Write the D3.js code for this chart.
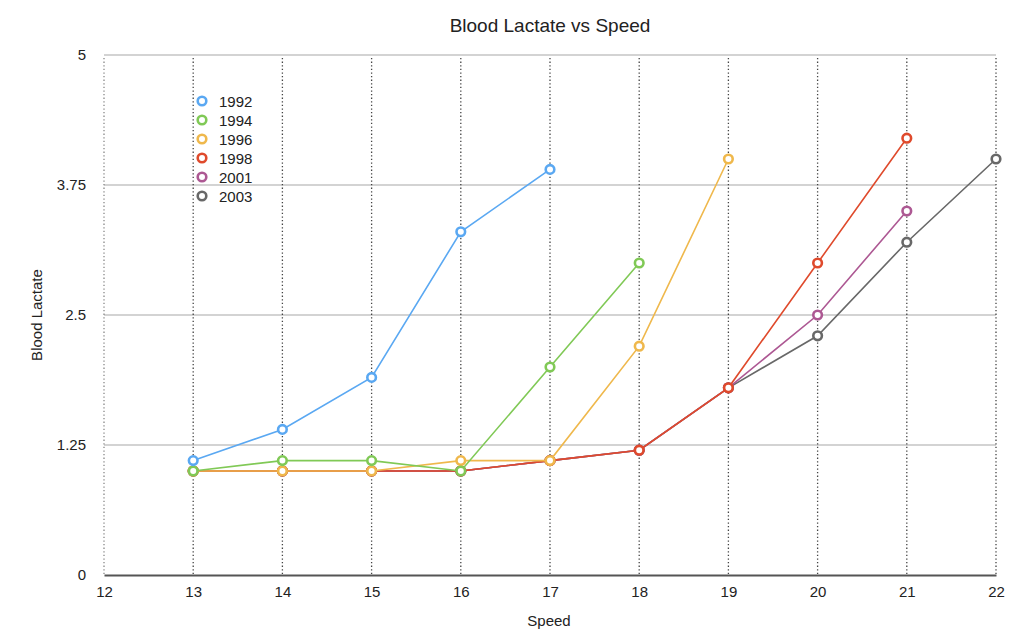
<!DOCTYPE html>
<html>
<head>
<meta charset="utf-8">
<script src="https://cdn.jsdelivr.net/npm/d3@7"></script>
<style>
  body { margin: 0; background: #fff; }
  svg text { font-family: "Liberation Sans", Arial, sans-serif; fill: #222; }
</style>
</head>
<body>
<svg id="chart" width="1024" height="638"></svg>
<script>
// speeds on the x axis
var speeds = [13, 14, 15, 16, 17, 18, 19, 20, 21, 22];
var xTicks = [12, 13, 14, 15, 16, 17, 18, 19, 20, 21, 22];
var yTicks = [0, 1.25, 2.5, 3.75, 5];

var years = ['1992', '1994', '1996', '1998', '2001', '2003'];
var colors = ['#5aa8f2', '#80c956', '#efb84c', '#df4a2c', '#ad5893', '#686868'];

// lactate per year, null where not measured
var v1992 = [1.1, 1.4, 1.9, 3.3, 3.9, null, null, null, null, null];
var v1994 = [1.0, 1.1, 1.1, 1.0, 2.0, 3.0, null, null, null, null];
var v1996 = [1.0, 1.0, 1.0, 1.1, 1.1, 2.2, 4.0, null, null, null];
var v1998 = [1.0, 1.0, 1.0, 1.0, 1.1, 1.2, 1.8, 3.0, 4.2, null];
var v2001 = [1.0, 1.0, 1.0, 1.0, 1.1, 1.2, 1.8, 2.5, 3.5, null];
var v2003 = [1.0, 1.0, 1.0, 1.0, 1.1, 1.2, 1.8, 2.3, 3.2, 4.0];

var values = [v1992, v1994, v1996, v1998, v2001, v2003];

var svg = d3.select('#chart');
var plotLeft = 104, plotRight = 996, plotTop = 55, plotBottom = 575;
var font = '"Liberation Sans", Arial, sans-serif';

var x = d3.scaleLinear().domain([12, 22]).range([plotLeft, plotRight]);
var y = d3.scaleLinear().domain([0, 5]).range([plotBottom, plotTop]);

// horizontal grid
svg.append('g').selectAll('line')
  .data(yTicks.filter(function(d){ return d > 0; }))
  .enter().append('line')
  .attr('x1', plotLeft).attr('x2', plotRight)
  .attr('y1', function(d){ return y(d); })
  .attr('y2', function(d){ return y(d); })
  .attr('stroke', '#c4c4c4').attr('stroke-width', 1.3);

// vertical dotted grid
svg.append('g').selectAll('line')
  .data(xTicks)
  .enter().append('line')
  .attr('x1', function(d){ return x(d); })
  .attr('x2', function(d){ return x(d); })
  .attr('y1', plotTop + 3).attr('y2', plotBottom)
  .attr('stroke', function(d){ return d === 12 ? '#888' : '#444'; })
  .attr('stroke-width', 1.3)
  .attr('stroke-dasharray', '1.3,2.3');

// x axis
var xAxis = svg.append('g')
  .attr('transform', 'translate(0,' + plotBottom + ')')
  .call(d3.axisBottom(x).tickValues(xTicks).tickSize(0).tickPadding(11));
xAxis.select('.domain').attr('stroke', '#555').attr('stroke-width', 2.2);
xAxis.selectAll('text').attr('font-size', 15).style('font-family', font).attr('fill', '#222');

// y axis
var yAxis = svg.append('g')
  .attr('transform', 'translate(' + (plotLeft - 18) + ',0)')
  .call(d3.axisLeft(y).tickValues(yTicks).tickSize(0).tickPadding(0).tickFormat(function(d){ return String(d); }));
yAxis.select('.domain').remove();
yAxis.selectAll('text').attr('font-size', 15).style('font-family', font).attr('fill', '#222');

// titles
svg.append('text').attr('x', 550).attr('y', 32)
  .attr('text-anchor', 'middle').attr('font-size', 19).text('Blood Lactate vs Speed');
svg.append('text').attr('x', 549).attr('y', 626)
  .attr('text-anchor', 'middle').attr('font-size', 15).text('Speed');
svg.append('text')
  .attr('transform', 'translate(42,315) rotate(-90)')
  .attr('text-anchor', 'middle').attr('font-size', 15).text('Blood Lactate');

// series, drawn last-first so earlier years sit on top
var line = d3.line()
  .defined(function(d){ return d.v !== null; })
  .x(function(d){ return x(d.s); })
  .y(function(d){ return y(d.v); });

var order = d3.range(years.length).reverse();
order.forEach(function(i) {
  var pts = speeds.map(function(s, j){ return { s: s, v: values[i][j] }; });
  var g = svg.append('g');
  g.append('path')
    .datum(pts)
    .attr('d', line)
    .attr('fill', 'none')
    .attr('stroke', colors[i])
    .attr('stroke-width', 1.6);
  g.selectAll('circle')
    .data(pts.filter(function(d){ return d.v !== null; }))
    .enter().append('circle')
    .attr('cx', function(d){ return x(d.s); })
    .attr('cy', function(d){ return y(d.v); })
    .attr('r', 4.3)
    .attr('fill', '#fff')
    .attr('stroke', colors[i])
    .attr('stroke-width', 2.6);
});

// legend
var legend = svg.append('g').attr('transform', 'translate(202,101)');
var item = legend.selectAll('g')
  .data(years)
  .enter().append('g')
  .attr('transform', function(d, i){ return 'translate(0,' + (i * 19) + ')'; });
item.append('circle')
  .attr('r', 4.3)
  .attr('fill', '#fff')
  .attr('stroke', function(d, i){ return colors[i]; })
  .attr('stroke-width', 2.6);
item.append('text')
  .attr('x', 17).attr('y', 5.5)
  .attr('font-size', 15)
  .text(function(d){ return d; });
</script>
</body>
</html>
